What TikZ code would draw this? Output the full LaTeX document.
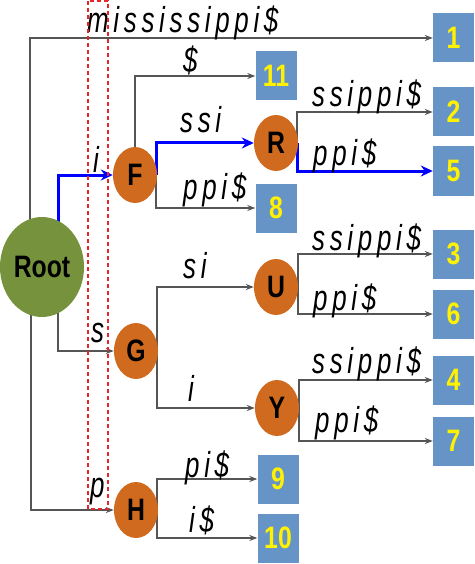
\documentclass[tikz,border=0pt]{standalone}
\usepackage{fontspec}
\usetikzlibrary{arrows.meta,backgrounds,shapes.geometric}
\newfontfamily\lblfont{Liberation Sans}[FakeStretch=0.72,LetterSpace=13]
\newfontfamily\keyfont{Liberation Sans}[FakeStretch=0.8]
\definecolor{leafblue}{RGB}{103,148,198}
\definecolor{nodeorange}{RGB}{208,106,30}
\definecolor{rootgreen}{RGB}{118,146,60}
\definecolor{linegray}{RGB}{85,85,85}
\definecolor{dashred}{RGB}{232,38,42}

\begin{document}
\begin{tikzpicture}[x=1pt,y=-1pt]
        \tikzstyle{leaf}=[fill=leafblue, minimum width=41pt, minimum height=49pt, inner sep=0pt,
                          text=yellow, font={\keyfont\bfseries\fontsize{31}{31}\selectfont}]
        \tikzstyle{inner}=[ellipse, fill=nodeorange, minimum width=44pt, minimum height=56pt, inner sep=0pt,
                           font={\keyfont\bfseries\fontsize{31}{31}\selectfont}]
        \tikzstyle{branch}=[draw=linegray, line width=1.2pt, -{Stealth[length=8pt,width=6pt]}]
        \tikzstyle{hilite}=[draw=blue, line width=3pt, -{Stealth[length=12pt,width=11pt]}]
        \tikzstyle{lbl}=[anchor=base west, inner sep=0pt, font={\lblfont\itshape\fontsize{36}{36}\selectfont}]

        \useasboundingbox (0,0) rectangle (474,564);

        % tree nodes
        \node (root) [inner, fill=rootgreen, minimum width=84pt, minimum height=100pt] at (42,267) {Root};
        \node (F) [inner] at (135,175) {F};
        \node (R) [inner] at (276,143) {R};
        \node (G) [inner] at (136,351) {G};
        \node (U) [inner] at (276,287) {U};
        \node (Y) [inner] at (277,408) {Y};
        \node (H) [inner] at (136,510) {H};

        % leaves
        \node (b1)  [leaf] at (453.5,38)  {1};
        \node (b11) [leaf] at (276,76)    {11};
        \node (b2)  [leaf] at (453.5,112) {2};
        \node (b5)  [leaf] at (453.5,171) {5};
        \node (b8)  [leaf] at (276,208)   {8};
        \node (b3)  [leaf] at (453.5,254) {3};
        \node (b6)  [leaf] at (453.5,314) {6};
        \node (b4)  [leaf] at (453.5,380) {4};
        \node (b7)  [leaf] at (453.5,441) {7};
        \node (b9)  [leaf] at (278,479)   {9};
        \node (b10) [leaf] at (278,538)   {10};

        % edge labels
        \node (lmiss) [lbl] at (87,33)   {mississippi\$};
        \node (li)    [lbl] at (93,172)  {i};
        \node (ls)    [lbl] at (91,342)  {s};
        \node (lp)    [lbl] at (90,497)  {p};
        \node (ldol)  [lbl] at (183,73)  {\$};
        \node (lssi)  [lbl] at (180,133) {ssi};
        \node (lppiF) [lbl] at (183,199) {ppi\$};
        \node (lsiG)  [lbl] at (183,278) {si};
        \node (liG)   [lbl] at (188,401) {i};
        \node (lpiH)  [lbl] at (185,477) {pi\$};
        \node (liH)   [lbl] at (189,532) {i\$};
        \node (lssR)  [lbl] at (312,107) {ssippi\$};
        \node (lppR)  [lbl] at (313,165) {ppi\$};
        \node (lssU)  [lbl] at (312,250) {ssippi\$};
        \node (lppU)  [lbl] at (313,310) {ppi\$};
        \node (lssY)  [lbl] at (312,373) {ssippi\$};
        \node (lppY)  [lbl] at (315,432) {ppi\$};

        \begin{pgfonlayer}{background}
            \path[branch] ([xshift=-12pt]root.center) |- (b1.west);
            \path[hilite] ([xshift=16pt]root.center) |- (F.west);
            \path[branch] ([xshift=16pt]root.center) |- (G.west);
            \path[branch] ([xshift=-11pt]root.center) |- (H.west);

            \path[branch] (F.center) |- (b11.west);
            \path[hilite] ([xshift=21pt]F.center) |- (R.west);
            \path[branch] ([xshift=21pt]F.center) |- (b8.west);
            \path[branch] ([xshift=21pt]R.center) |- (b2.west);
            \path[hilite] ([xshift=21pt]R.center) |- (b5.west);

            \path[branch] ([xshift=21pt]G.center) |- (U.west);
            \path[branch] ([xshift=21pt]G.center) |- (Y.west);
            \path[branch] ([xshift=22pt]U.center) |- (b3.west);
            \path[branch] ([xshift=22pt]U.center) |- (b6.west);
            \path[branch] ([xshift=22pt]Y.center) |- (b4.west);
            \path[branch] ([xshift=22pt]Y.center) |- (b7.west);

            \path[branch] ([xshift=21pt]H.center) |- (b9.west);
            \path[branch] ([xshift=21pt]H.center) |- (b10.west);
        \end{pgfonlayer}

        % highlighted column
        \draw[dashred, line width=1.5pt, dash pattern=on 4pt off 3pt] (88,1) rectangle (108,509);
\end{tikzpicture}
\end{document}
